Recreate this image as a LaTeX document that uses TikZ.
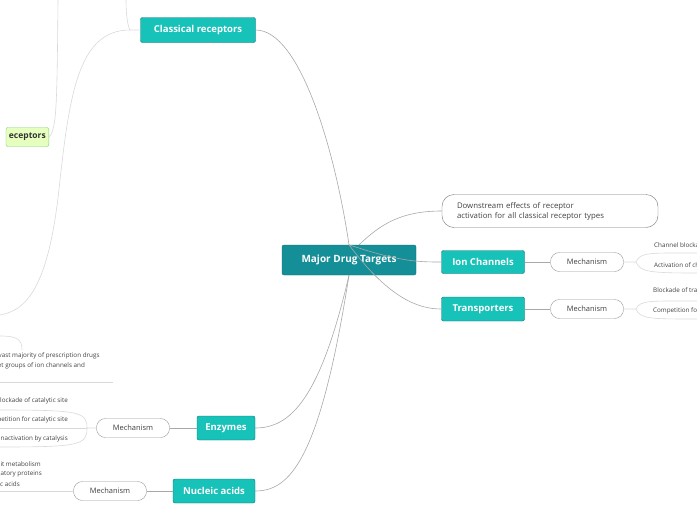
\documentclass[tikz,border=0pt]{standalone}
\usepackage{fontspec}
\setmainfont{Open Sans}
\definecolor{teal1}{HTML}{17C2B9}
\definecolor{teal2}{HTML}{148F98}
\definecolor{tdark}{HTML}{0E6E70}
\definecolor{lnc}{HTML}{A8A8A8}
\begin{document}
\begin{tikzpicture}[x=1pt,y=-1pt,
 main/.style={draw=tdark,fill=teal1,rounded corners=2pt,text=white,font=\bfseries\fontsize{9.5}{11}\selectfont,inner xsep=4pt,minimum height=24pt},
 mech/.style={draw=gray!80,rounded corners=9pt,fill=white,minimum width=73pt,minimum height=19pt,font=\fontsize{7.5}{9}\selectfont,text=black!75},
 sm/.style={font=\fontsize{6.3}{10}\selectfont,text=black!75,inner sep=0pt},
 ln/.style={draw=lnc,line width=0.6pt},
 lnl/.style={draw=black!15,line width=0.6pt}]
\useasboundingbox (0,0) rectangle (697,520);
\clip (0,0) rectangle (697,520);
\node[main,fill=teal2,minimum width=134pt,minimum height=30pt,font=\bfseries\fontsize{10}{12}\selectfont] (mdt) at (349,260) {Major Drug Targets};
\node[main,minimum width=115pt,minimum height=25pt] (cr) at (198,30) {Classical receptors};
\node[draw=black!55,rounded corners=12pt,minimum width=216pt,minimum height=33pt,align=left,font=\fontsize{7.8}{10}\selectfont,text=black!75,text width=186pt] (ds) at (550,211) {Downstream effects of receptor\\activation for all classical receptor types};
\node[main,minimum width=83pt,minimum height=23pt] (ic) at (483,262) {Ion Channels};
\node[main,minimum width=83pt,minimum height=24pt] (tr) at (483,309) {Transporters};
\node[main,minimum width=58pt,minimum height=24pt] (en) at (226,428) {Enzymes};
\node[main,minimum width=82pt,minimum height=24pt] (na) at (214,491) {Nucleic acids};
\node[draw=green!60!black!50,fill=green!40!yellow!25,rounded corners=2pt,anchor=east,minimum height=19pt,inner xsep=3pt,font=\bfseries\fontsize{8.5}{10}\selectfont,text=black!80] (rc) at (49,137) {eceptors};
\node[mech] (m1) at (587,262) {Mechanism};
\node[mech] (m2) at (587,309) {Mechanism};
\node[mech] (m3) at (133,428) {Mechanism};
\node[mech] (m4) at (110,491) {Mechanism};
% connectors
\draw[ln] (cr.east) .. controls (300,30) and (335,150) .. (mdt.north);
\draw[ln] (mdt.north) ++(10,0) coordinate (q) .. controls (380,225) and (400,211) .. (ds.west);
\draw[ln] (mdt.north) .. controls (400,262) and (420,262) .. (ic.west);
\draw[ln] (mdt.north) .. controls (390,300) and (420,309) .. (tr.west);
\draw[ln] (mdt.south) .. controls (320,400) and (290,428) .. (en.east);
\draw[ln] (mdt.south) .. controls (320,460) and (290,491) .. (na.east);
\draw[ln] (ic) -- (m1); \draw[ln] (tr) -- (m2); \draw[ln] (en) -- (m3); \draw[ln] (na) -- (m4);
\draw[lnl] (cr.west) -- (130,30) .. controls (80,30) and (70,90) .. (60,180) .. controls (50,280) and (30,310) .. (0,315);
\draw[lnl] (130,30) .. controls (127,25) and (126,10) .. (126,0);
\draw[lnl] (rc.east) .. controls (57,130) and (57,100) .. (58,0);
% right branches
\draw[lnl] (m1.east) -- (636,262) .. controls (640,252) and (650,253) .. (697,253);
\draw[lnl] (636,262) .. controls (640,272) and (650,273) .. (697,273);
\node[sm,anchor=west] (t1) at (654,245) {Channel blockade};
\node[sm,anchor=west] (t2) at (654,265) {Activation of channel};
\draw[lnl] (m2.east) -- (636,309) .. controls (640,300) and (650,301) .. (697,301);
\draw[lnl] (636,309) .. controls (640,319) and (650,319) .. (697,319);
\node[sm,anchor=west] (t3) at (653,291) {Blockade of transport};
\node[sm,anchor=west] (t4) at (653,311) {Competition for transport};
% left branches
\draw[lnl] (m3.west) -- (87,428) .. controls (87,412) and (80,410) .. (0,410);
\draw[lnl] (87,428) .. controls (87,445) and (80,447) .. (0,447);
\draw[lnl] (87,428) -- (0,428);
\node[sm,anchor=east] (e1) at (68,401) {Blockade of catalytic site};
\node[sm,anchor=east] (e2) at (68,420) {Competition for catalytic site};
\node[sm,anchor=east] (e3) at (68,439) {Inactivation by catalysis};
\draw[lnl] (m4.west) -- (0,491);
\node[sm,anchor=east] (n1) at (41,464) {Inhibit metabolism};
\node[sm,anchor=east] (n2) at (42,474) {regulatory proteins};
\node[sm,anchor=east] (n3) at (20,484) {nucleic acids};
\node[sm,anchor=west,align=left] (p1) at (-14,361) {The vast majority of prescription drugs\\target groups of ion channels and};
\draw[lnl] (0,382) -- (113,382);
\draw[lnl] (0,336) .. controls (18,336) and (22,340) .. (22,350);
\end{tikzpicture}
\end{document}
